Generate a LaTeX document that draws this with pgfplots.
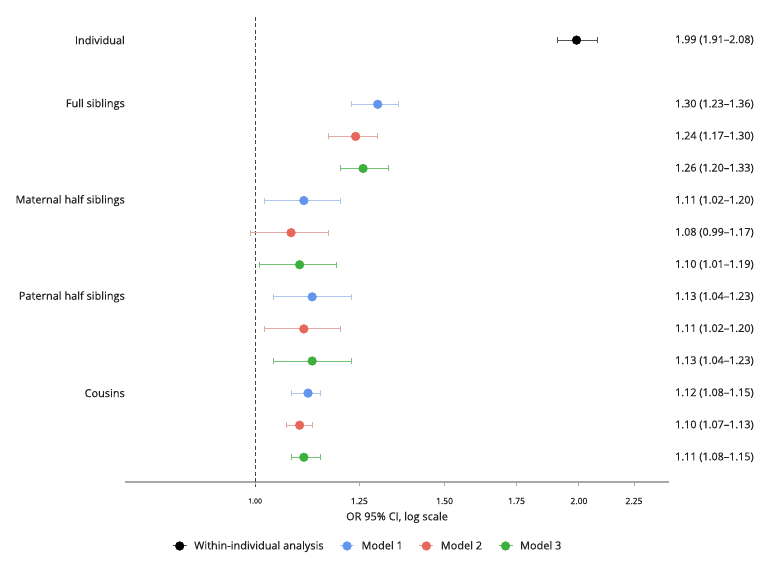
\documentclass[border=0pt]{standalone}
\usepackage{pgfplots}
\usepackage{pgfplotstable}
\usepackage{fontspec}
\setmainfont{Open Sans}[FakeBold=0.25]
\pgfplotsset{compat=1.18}
\definecolor{txt}{HTML}{222222}
\definecolor{axgray}{HTML}{A8A8A8}
\definecolor{dashc}{HTML}{444444}
\definecolor{blk}{HTML}{000000}
\definecolor{blkci}{HTML}{555555}
\definecolor{blu}{HTML}{6495ED}
\definecolor{bluci}{HTML}{AFC7EE}
\definecolor{red}{HTML}{E8675C}
\definecolor{redci}{HTML}{E3A9A4}
\definecolor{grn}{HTML}{3DAF3D}
\definecolor{grnci}{HTML}{72C272}

% point estimates: y (row, negative) and OR
\pgfplotstableread{
y est
0 1.99
}\indpt
\pgfplotstableread{
y est
-2 1.30
-5 1.11
-8 1.13
-11 1.12
}\mApt
\pgfplotstableread{
y est
-3 1.24
-6 1.08
-9 1.11
-12 1.10
}\mBpt
\pgfplotstableread{
y est
-4 1.26
-7 1.10
-10 1.13
-13 1.11
}\mCpt
% confidence intervals (segments separated by nan)
\pgfplotstableread{
x y
1.91 0
2.08 0
}\indci
\pgfplotstableread{
x y
1.23 -2
1.36 -2
nan nan
1.02 -5
1.20 -5
nan nan
1.04 -8
1.23 -8
nan nan
1.08 -11
1.15 -11
}\mAci
\pgfplotstableread{
x y
1.17 -3
1.30 -3
nan nan
0.99 -6
1.17 -6
nan nan
1.02 -9
1.20 -9
nan nan
1.07 -12
1.13 -12
}\mBci
\pgfplotstableread{
x y
1.20 -4
1.33 -4
nan nan
1.01 -7
1.19 -7
nan nan
1.04 -10
1.23 -10
nan nan
1.08 -13
1.15 -13
}\mCci

\begin{document}
\begin{tikzpicture}
\useasboundingbox (0,0) rectangle (768bp,567bp);
\begin{axis}[
  at={(125bp,85bp)}, anchor=south west,
  scale only axis, width=544bp, height=465.3bp,
  xmode=log, xmin=0.757, xmax=2.425,
  ymin=-13.77, ymax=0.73,
  clip=false,
  axis x line*=bottom, axis y line=none,
  x axis line style={-, draw=axgray, line width=1.5bp},
  xtick={1,1.25,1.5,1.75,2,2.25},
  xticklabels={{\fontsize{7}{8}\selectfont 1.00},1.25,1.50,1.75,2.00,2.25},
  xminorticks=false,
  tick align=outside,
  major tick length=4bp,
  xtick style={draw=axgray, line width=1bp},
  xticklabel style={font=\fontsize{8.6}{10}\selectfont, text=txt, anchor=center, yshift=-15bp},
  xlabel={OR 95\% CI, log scale},
  xlabel style={at={(axis description cs:0.5,-0.0762)}, anchor=center, font=\fontsize{11}{13}\selectfont, text=txt},
  unbounded coords=jump,
  legend columns=4,
  legend style={at={(axis description cs:0.0864,-0.1375)}, anchor=west,
    draw=none, fill=none, inner sep=0pt, font=\fontsize{11}{13}\selectfont, text=txt,
    nodes={inner sep=0pt},
    /tikz/every odd column/.append style={column sep=7bp},
    /tikz/every even column/.append style={column sep=16bp}},
]
% reference line at OR = 1
\addplot[forget plot, draw=dashc, line width=1.1bp, dash pattern=on 4bp off 2.5bp]
  coordinates {(1,0.73) (1,-13.92)};
% CIs
\addplot[forget plot, draw=blkci, line width=1bp, mark=|, mark size=3bp, mark options={line width=1bp}] table[x=x,y=y] {\indci};
\addplot[forget plot, draw=bluci, line width=1bp, mark=|, mark size=3bp, mark options={line width=1bp}] table[x=x,y=y] {\mAci};
\addplot[forget plot, draw=redci, line width=1bp, mark=|, mark size=3bp, mark options={line width=1bp}] table[x=x,y=y] {\mBci};
\addplot[forget plot, draw=grnci, line width=1bp, mark=|, mark size=3bp, mark options={line width=1bp}] table[x=x,y=y] {\mCci};
% points
\addplot[forget plot, only marks, mark=*, mark size=4.4bp, color=blk] table[x=est,y=y] {\indpt};
\addplot[forget plot, only marks, mark=*, mark size=4.4bp, color=blu] table[x=est,y=y] {\mApt};
\addplot[forget plot, only marks, mark=*, mark size=4.4bp, color=red] table[x=est,y=y] {\mBpt};
\addplot[forget plot, only marks, mark=*, mark size=4.4bp, color=grn] table[x=est,y=y] {\mCpt};
% legend
\addlegendimage{legend image code/.code={\draw[blkci, line width=1bp] (0bp,0bp) -- (14bp,0bp); \fill[blk] (7bp,0bp) circle (4.4bp);}}
\addlegendentry{Within-individual analysis}
\addlegendimage{legend image code/.code={\draw[bluci, line width=1bp] (0bp,0bp) -- (14bp,0bp); \fill[blu] (7bp,0bp) circle (4.4bp);}}
\addlegendentry{Model 1}
\addlegendimage{legend image code/.code={\draw[redci, line width=1bp] (0bp,0bp) -- (14bp,0bp); \fill[red] (7bp,0bp) circle (4.4bp);}}
\addlegendentry{Model 2}
\addlegendimage{legend image code/.code={\draw[grnci, line width=1bp] (0bp,0bp) -- (14bp,0bp); \fill[grn] (7bp,0bp) circle (4.4bp);}}
\addlegendentry{Model 3}
% group labels (left)
\begin{scope}[every node/.style={anchor=east, font=\fontsize{11}{13}\selectfont, text=txt, inner sep=0pt}]
\node at (axis cs:0.757,0) {Individual};
\node at (axis cs:0.757,-2) {Full siblings};
\node at (axis cs:0.757,-5) {Maternal half siblings};
\node at (axis cs:0.757,-8) {Paternal half siblings};
\node at (axis cs:0.757,-11) {Cousins};
\end{scope}
% estimates (right)
\begin{scope}[every node/.style={anchor=west, font=\fontsize{10.8}{13}\selectfont, text=txt, inner sep=0pt, xshift=6bp}]
\node at (axis cs:2.425,0) {1.99 (1.91–2.08)};
\node at (axis cs:2.425,-2) {1.30 (1.23–1.36)};
\node at (axis cs:2.425,-3) {1.24 (1.17–1.30)};
\node at (axis cs:2.425,-4) {1.26 (1.20–1.33)};
\node at (axis cs:2.425,-5) {1.11 (1.02–1.20)};
\node at (axis cs:2.425,-6) {1.08 (0.99–1.17)};
\node at (axis cs:2.425,-7) {1.10 (1.01–1.19)};
\node at (axis cs:2.425,-8) {1.13 (1.04–1.23)};
\node at (axis cs:2.425,-9) {1.11 (1.02–1.20)};
\node at (axis cs:2.425,-10) {1.13 (1.04–1.23)};
\node at (axis cs:2.425,-11) {1.12 (1.08–1.15)};
\node at (axis cs:2.425,-12) {1.10 (1.07–1.13)};
\node at (axis cs:2.425,-13) {1.11 (1.08–1.15)};
\end{scope}
\end{axis}
\end{tikzpicture}
\end{document}
